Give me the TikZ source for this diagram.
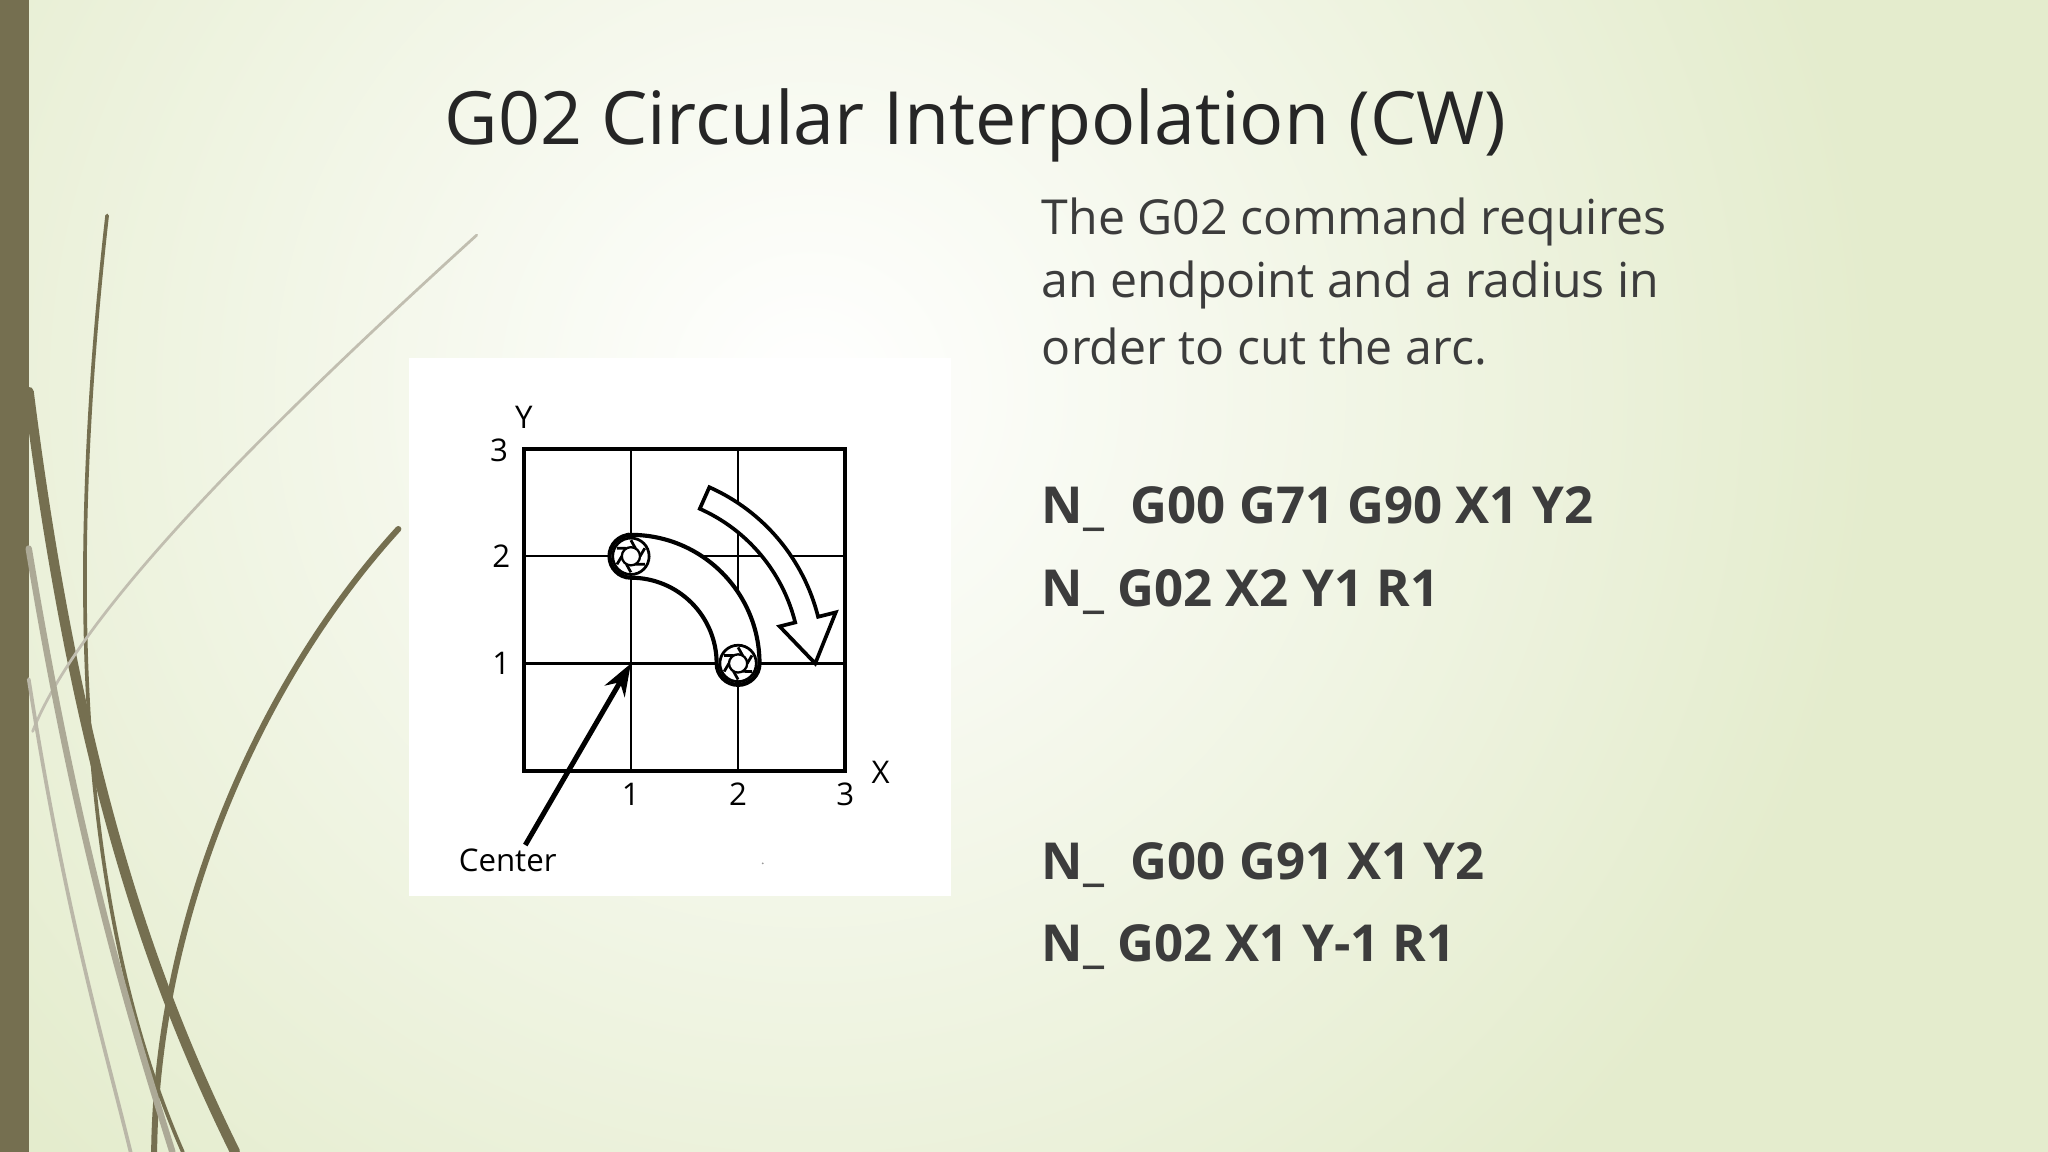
\documentclass[tikz,border=0pt]{standalone}
\usepackage{fontspec}
\setmainfont{Open Sans}
\usetikzlibrary{arrows.meta}
\definecolor{bgc}{RGB}{228,236,205}
\definecolor{olive}{RGB}{117,111,80}
\definecolor{txt}{RGB}{60,60,60}
\tikzset{
  curve/.style={draw=olive,line cap=round},
  body/.style={anchor=west,text=txt,font=\fontsize{10.5}{13}\selectfont,inner sep=0pt},
  code/.style={anchor=west,text=txt,font=\fontsize{11.1}{14}\bfseries\selectfont,inner sep=0pt},
  lab/.style={font=\fontsize{6.8}{7}\selectfont,inner sep=0pt,text=black},
  gridl/.style={draw=black,line width=0.5pt},
}
\begin{document}
\begin{tikzpicture}[x=0.01cm,y=-0.01cm]
\useasboundingbox (0,0) rectangle (1568,882);
\fill[bgc] (0,0) rectangle (1568,882);
\shade[inner color=white,outer color=bgc] (620,300) circle (820);
\fill[olive] (0,0) rectangle (22,882);
% decorative curves
\draw[curve,line width=2.2pt] (22,300) .. controls (60,600) and (120,760) .. (180,882);
\draw[curve,line width=0.8pt] (82,165) .. controls (50,450) and (60,700) .. (140,882);
\draw[curve,line width=0.6pt,draw=olive!45] (365,180) .. controls (200,330) and (60,470) .. (25,560);
\draw[curve,line width=1.3pt] (305,405) .. controls (200,520) and (120,700) .. (118,882);
\draw[curve,line width=1.4pt,draw=olive!60] (22,420) .. controls (60,650) and (100,780) .. (132,882);
\draw[curve,line width=0.8pt,draw=olive!50] (22,520) .. controls (50,700) and (80,800) .. (100,882);
% title and text
\node[anchor=center,text=black!85,font=\fontsize{16}{19}\selectfont,inner sep=0pt] (title) at (747,96) {G02 Circular Interpolation (CW)};
\node[body] (t1) at (797,170) {The G02 command requires};
\node[body] (t2) at (797,218) {an endpoint and a radius in};
\node[body] (t3) at (797,265) {order to cut the arc.};
\node[code] (c1) at (797,390) {N\_\ \ G00 G71 G90 X1 Y2};
\node[code] (c2) at (797,453) {N\_ G02 X2 Y1 R1};
\node[code] (c3) at (797,662) {N\_\ \ G00 G91 X1 Y2};
\node[code] (c4) at (797,725) {N\_ G02 X1 Y-1 R1};
% figure
\fill[white] (313,274) rectangle (728,686);
\begin{scope}[shift={(401,590)},x=0.82cm,y=0.82cm]
  \foreach \i in {1,2} {
    \draw[gridl] (\i,0) -- (\i,3);
    \draw[gridl] (0,\i) -- (3,\i);
  }
  \draw[black,line width=0.9pt] (0,0) rectangle (3,3);
  \path[lab] node (y3) at (-0.23,2.99) {3} node (y2) at (-0.21,2.0) {2} node (y1) at (-0.21,1.0) {1}
    node (x1) at (1,-0.22) {1} node (x2) at (2,-0.22) {2} node (x3) at (3,-0.22) {3}
    node (ylab) at (0.0,3.3) {Y} node (xlab) at (3.33,-0.02) {X}
    node (cen) at (-0.15,-0.84) {Center};
  \coordinate (C) at (1,1);
  % band
  \draw[fill=white,line width=0.9pt] (1,2.2) arc[start angle=90,end angle=0,radius=1.2]
     arc[start angle=0,end angle=-180,radius=0.2]
     arc[start angle=0,end angle=90,radius=0.8]
     arc[start angle=-90,end angle=-270,radius=0.2] -- cycle;
  % cutters
  \foreach \cx/\cy/\nm in {1/2/cutA,2/1/cutB} {
    \begin{scope}[shift={(\cx,\cy)}]
      \draw[line width=0.6pt,fill=white] (0,0) circle (0.17);
      \draw[line width=0.5pt] (0,0) circle (0.085);
      \foreach \a in {0,60,...,300} \draw[line width=0.6pt] (\a:0.085) -- (\a+30:0.15);
      \coordinate (\nm) at (0,0);
    \end{scope}
  }
  % hollow arrow
  \begin{scope}[shift={(1,1)}]
    \draw[fill=white,line width=0.8pt,line join=miter] (66:1.8) arc[start angle=66,end angle=14,radius=1.8]
      -- (14:1.97) -- (0:1.72) -- (14:1.43) -- (14:1.58)
      arc[start angle=14,end angle=66,radius=1.58] -- cycle;
  \end{scope}
  \draw[line width=1.1pt,-{Stealth[length=7pt,width=5pt]}] (cen.north east) ++(-0.3,0.03) -- (C);
\end{scope}
\fill[black!40] (584,661) circle (0.8);
\end{tikzpicture}
\end{document}
